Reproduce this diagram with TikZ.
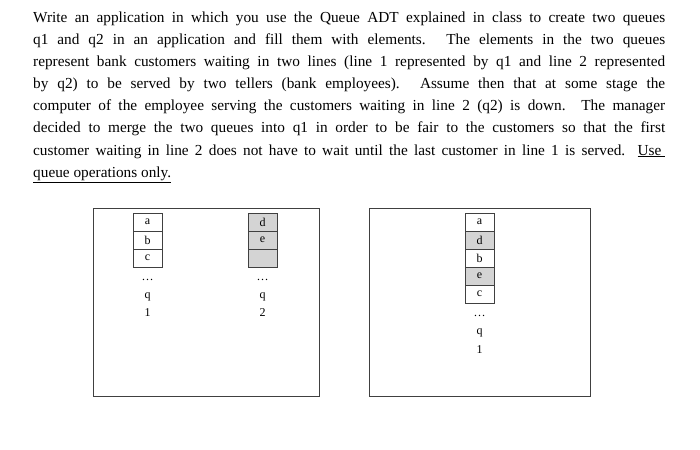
\documentclass[tikz,border=0pt]{standalone}
\usepackage{fontspec}
\setmainfont{Liberation Serif}
\begin{document}
\begin{tikzpicture}[x=1pt,y=-1pt,
  ln/.style={anchor=base west,inner sep=0pt,font=\fontsize{15.3}{18}\selectfont},
  cell/.style={draw=black!75,minimum width=29pt,minimum height=18pt,inner sep=0pt,font=\fontsize{12}{14}\selectfont},
  gcell/.style={cell,fill=black!17},
  lab/.style={inner sep=0pt,font=\fontsize{12}{14}\selectfont},
  frame/.style={draw=black!75,line width=0.8pt}]
\useasboundingbox (0,0) rectangle (700,449);
\def\J#1{\hbox to 632pt{#1}}
\node[ln] (l1) at (33,23) {\J{Write an application in which you use the Queue ADT explained in class to create two queues}};
\node[ln] (l2) at (33,45) {\J{q1 and q2 in an application and fill them with elements. The elements in the two queues}};
\node[ln] (l3) at (33,67) {\J{represent bank customers waiting in two lines (line 1 represented by q1 and line 2 represented}};
\node[ln] (l4) at (33,89) {\J{by q2) to be served by two tellers (bank employees). Assume then that at some stage the}};
\node[ln] (l5) at (33,111) {\J{computer of the employee serving the customers waiting in line 2 (q2) is down. The manager}};
\node[ln] (l6) at (33,133) {\J{decided to merge the two queues into q1 in order to be fair to the customers so that the first}};
\node[ln] (l7) at (33,155) {\J{customer waiting in line 2 does not have to wait until the last customer in line 1 is served. \underline{Use\ }}};
\node[ln] (l8) at (33,177) {\underline{queue operations only.}};
% left frame
\draw[frame] (93,208) rectangle (319,396);
\node[cell] (a1) at (147.5,222) {a};
\node[cell] (b1) at (147.5,240) {b};
\node[cell] (c1) at (147.5,258) {c};
\node[lab] (d1) at (147.5,280) {\dots};
\node[lab] (q1) at (147.5,297) {q};
\node[lab] (n1) at (147.5,313) {1};
\node[gcell] (d2) at (262.5,222) {d};
\node[gcell] (e2) at (262.5,240) {e};
\node[gcell] (x2) at (262.5,258) {};
\node[lab] (dd2) at (262.5,280) {\dots};
\node[lab] (q2) at (262.5,297) {q};
\node[lab] (n2) at (262.5,313) {2};
% right frame
\draw[frame] (369,208) rectangle (590,396);
\node[cell] (ra) at (479.5,222) {a};
\node[gcell] (rd) at (479.5,240) {d};
\node[cell] (rb) at (479.5,258) {b};
\node[gcell] (re) at (479.5,276) {e};
\node[cell] (rc) at (479.5,294) {c};
\node[lab] (rdots) at (479.5,316) {\dots};
\node[lab] (rq) at (479.5,333) {q};
\node[lab] (rn) at (479.5,350) {1};
\end{tikzpicture}
\end{document}
